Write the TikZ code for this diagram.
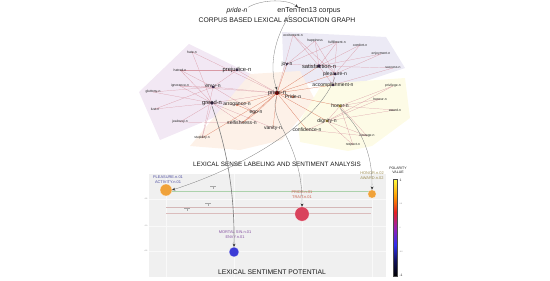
\documentclass[tikz,border=0pt]{standalone}
\usepackage{fontspec}
\setmainfont{Liberation Sans}
\usetikzlibrary{arrows.meta,backgrounds}

\definecolor{hullPurple}{HTML}{F2E8F4}
\definecolor{hullPeach}{HTML}{FDF0E6}
\definecolor{hullLavender}{HTML}{ECEAF5}
\definecolor{hullYellow}{HTML}{FDFBE3}
\definecolor{edgePink}{HTML}{D99AA6}
\definecolor{edgeHot}{HTML}{DB7A5E}
\definecolor{panelGray}{HTML}{F0F0F0}
\definecolor{senseBlue}{HTML}{4F4FA0}
\definecolor{senseRed}{HTML}{CC6450}
\definecolor{senseKhaki}{HTML}{9C8C50}
\definecolor{sensePurple}{HTML}{8450A0}
\definecolor{dotOrange}{HTML}{F0A23A}
\definecolor{dotCrimson}{HTML}{D9435C}
\definecolor{dotBlue}{HTML}{3B3BD6}
\definecolor{dotDark}{HTML}{3A2550}
\definecolor{dotGold}{HTML}{C9B334}
\definecolor{barNavy}{HTML}{10105A}
\definecolor{barBlue}{HTML}{2E2EF0}
\definecolor{barViolet}{HTML}{9A1FB0}
\definecolor{barRed}{HTML}{E62020}
\definecolor{barOrange}{HTML}{FF9A00}
\definecolor{barYellow}{HTML}{FFFF40}

\pgfdeclareverticalshading{polarity}{100bp}{color(0bp)=(black); color(25bp)=(black);
  color(33bp)=(barNavy); color(41bp)=(barBlue); color(50bp)=(barViolet);
  color(58bp)=(barRed); color(66bp)=(barOrange); color(75bp)=(barYellow);
  color(100bp)=(barYellow)}

\begin{document}
\begin{tikzpicture}[
  x=0.5mm, y=-0.5mm,
  every node/.style={text=black!88, inner sep=0.6pt},
  SmallWord/.style={font=\fontsize{4.8}{5.2}\selectfont},
  MidWord/.style={font=\fontsize{7.2}{7.6}\selectfont},
  BigWord/.style={font=\fontsize{8.2}{8.6}\selectfont},
  MyTitle/.style={font=\fontsize{9.6}{11}\selectfont, text=black!90},
  Edge/.style={draw=edgePink, line width=0.3pt},
  HotEdge/.style={draw=edgeHot, line width=0.35pt},
  Flow/.style={draw=black!50, line width=0.45pt,
               -{Stealth[length=4.5pt, width=4pt, color=black!80]}},
  Sense/.style={font=\fontsize{5.6}{6.6}\selectfont, align=center},
  SenseDot/.style={circle, draw=white, line width=0.3pt, inner sep=0pt},
  Tiny/.style={font=\fontsize{2.6}{3}\selectfont, text=black!55},
  ]
\useasboundingbox (0,0) rectangle (550,280);

% titles
\node [font=\fontsize{9.6}{10}\selectfont\itshape] (seed) at (237,11) {pride-n};
\node [font=\fontsize{10.3}{11}\selectfont] (corpus) at (309,11) {enTenTen13 corpus};
\node [MyTitle] (graphTitle) at (277,20.5) {CORPUS BASED LEXICAL ASSOCIATION GRAPH};
\node [MyTitle, font=\fontsize{9}{10}\selectfont] (senseTitle) at (277,164)
      {LEXICAL SENSE LABELING AND SENTIMENT ANALYSIS};
\node [MyTitle] (potentialTitle) at (272,272) {LEXICAL SENTIMENT POTENTIAL};

% left cluster
\node [SmallWord] (hate) at (192,52) {hate-n};
\node [SmallWord] (hatred) at (180,70) {hatred-n};
\node [BigWord] (prejudice) at (237,70) {prejudice-n};
\node [SmallWord] (ignorance) at (180,86) {ignorance-n};
\node [MidWord] (envy) at (213,87) {envy-n};
\node [SmallWord] (gluttony) at (153,92) {gluttony-n};
\node [BigWord] (greed) at (212,103) {greed-n};
\node [SmallWord] (lust) at (155,109) {lust-n};
\node [SmallWord] (jealousy) at (180,122) {jealousy-n};
\node [SmallWord] (stupidity) at (202,138) {stupidity-n};

% centre cluster
\node [MidWord] (arrogance) at (237,105) {arrogance-n};
\node [MidWord] (ego) at (256,113) {ego-n};
\node [MidWord] (selfishness) at (242,123) {selfishness-n};
\node [MidWord] (vanity) at (273,128) {vanity-n};
\node [BigWord] (pride) at (277,93) {pride-n};
\node [MidWord] (prideCap) at (293,97) {Pride-n};
\node [MidWord] (confidence) at (307,130) {confidence-n};

% upper right cluster
\node [SmallWord] (excitement) at (293,35) {excitement-n};
\node [SmallWord] (happiness) at (315,41) {happiness};
\node [SmallWord] (fulfillment) at (337,42) {fulfillment-n};
\node [SmallWord] (comfort) at (360,45) {comfort-n};
\node [SmallWord] (enjoyment) at (381,54) {enjoyment-n};
\node [SmallWord] (success) at (393,68) {success-n};
\node [MidWord] (joy) at (287,64) {joy-n};
\node [BigWord] (satisfaction) at (319,66) {satisfaction-n};
\node [MidWord] (pleasure) at (335,74) {pleasure-n};
\node [MidWord] (accomplishment) at (333,85) {accomplishment-n};

% lower right cluster
\node [SmallWord] (privilege) at (393,86) {privilege-n};
\node [SmallWord] (honour) at (380,99) {honour-n};
\node [SmallWord] (award) at (395,110) {award-n};
\node [MidWord] (honor) at (340,106) {honor-n};
\node [MidWord] (dignity) at (327,121) {dignity-n};
\node [SmallWord] (courage) at (367,136) {courage-n};
\node [SmallWord] (respect) at (353,145) {respect-n};

\begin{scope}[on background layer]
\fill [hullPurple] (189,44) -- (257,77) -- (232,110) -- (160,140) -- (139,92) -- cycle;
\fill [hullLavender] (282,32) -- (386,37) -- (405,68) -- (345,88) -- (284,80) -- cycle;
\fill [hullPeach, opacity=0.9] (250,74) -- (300,71) -- (315,100) -- (282,140) -- (240,150)
      -- (190,146) -- cycle;
\fill [hullYellow, opacity=0.9] (322,84) -- (405,78) -- (410,118) -- (372,146) -- (348,151)
      -- (300,142) -- (298,124) -- cycle;

\foreach \a/\b in {hate/greed, hate/pride, hatred/prejudice, hatred/greed, hatred/envy,
    ignorance/envy, ignorance/greed, ignorance/pride, gluttony/envy, gluttony/greed,
    lust/envy, lust/greed, jealousy/greed, jealousy/selfishness, stupidity/greed,
    stupidity/envy, envy/prejudice, envy/pride, greed/pride, prejudice/pride,
    greed/arrogance, greed/selfishness, greed/vanity, envy/ego,
    excitement/satisfaction, excitement/pleasure, excitement/pride,
    happiness/satisfaction, happiness/pleasure, happiness/joy,
    fulfillment/satisfaction, fulfillment/accomplishment, fulfillment/joy,
    comfort/satisfaction, comfort/pleasure, enjoyment/satisfaction,
    enjoyment/pleasure, success/satisfaction, success/accomplishment,
    joy/satisfaction, accomplishment/satisfaction,
    privilege/honor, privilege/dignity, honour/dignity, honour/honor,
    award/honor, award/dignity, courage/dignity, courage/honor,
    respect/honor, respect/dignity, honor/dignity, confidence/dignity,
    courage/confidence}
  \draw [Edge] (\a.center) -- (\b.center);

\foreach \a/\b in {arrogance/pride, ego/pride, selfishness/pride, vanity/pride,
    confidence/pride, prideCap/pride, stupidity/pride, selfishness/ego,
    arrogance/ego, joy/pride, satisfaction/pride, pleasure/pride,
    accomplishment/pride, honor/pride, dignity/pride}
  \draw [HotEdge] (\a.center) -- (\b.center);

\foreach \n/\c/\r in {pride/red!50!black/2, prideCap/edgeHot/1.4, greed/dotDark/1.8,
    envy/dotDark/1.3, prejudice/dotDark/1.3, arrogance/edgeHot/1.2,
    satisfaction/dotDark/1.8, pleasure/dotDark/1.5, accomplishment/dotDark/1.4,
    joy/dotDark/1.2, honor/dotGold/1.6, dignity/dotGold/1.4}
  \fill [\c] (\n.center) circle (\r);

% lexical sentiment panel
\fill [panelGray] (149,174) rectangle (386,277);
\foreach \y in {199,226,251}
  \draw [white!60!panelGray, line width=0.3pt] (149,\y) -- (386,\y);
\foreach \x in {166,234,302,372}
  \draw [white!60!panelGray, line width=0.3pt] (\x,174) -- (\x,277);
\end{scope}

% sense lines in the panel
\draw [green!30!gray!50, line width=0.4pt] (166,191) -- (371,191);
\draw [red!25!gray!45, line width=0.4pt] (166,207) -- (372,207);
\draw [red!30!gray!40, line width=0.4pt] (166,213) -- (371,213);
\draw [black!35, line width=0.2pt] (210,186) -- (216,186) (213,186) -- (213,189);
\draw [black!35, line width=0.2pt] (205,203) -- (211,203) (208,203) -- (208,205.5);
\draw [black!35, line width=0.2pt] (184,208) -- (190,208) (187,208) -- (187,211);

\node [Tiny, anchor=east] (tickHigh) at (148,199) {0.5};
\node [Tiny, anchor=east] (tickMid) at (148,226) {0.0};
\node [Tiny, anchor=east] (tickLow) at (148,251) {-0.5};

% sense circles
\node [SenseDot, fill=dotOrange, minimum size=6mm] (pleasureDot) at (166,190) {};
\node [SenseDot, fill=dotCrimson, minimum size=7.2mm] (prideDot) at (302,214) {};
\node [SenseDot, fill=dotOrange, minimum size=4.2mm] (honorDot) at (372,194) {};
\node [SenseDot, fill=dotBlue, minimum size=5mm] (sinDot) at (234,252) {};

\node [Sense, text=senseBlue] (pleasureSense) at (168,179.5) {PLEASURE.n.01\\ACTIVITY.n.01};
\node [Sense, text=senseRed] (prideSense) at (302,194.5) {PRIDE.n.01\\TRAIT.n.01};
\node [Sense, text=senseKhaki] (honorSense) at (372,175.5) {HONOR.n.02\\AWARD.n.02};
\node [Sense, text=sensePurple] (sinSense) at (235,234.5) {MORTAL SIN.n.01\\ENVY.n.01};

% polarity colour bar
\node [font=\fontsize{5}{5.6}\selectfont, align=center] (polarity) at (398,170)
      {POLARITY\\VALUE};
\shade [shading=polarity, draw=black!70, line width=0.3pt] (393,179) rectangle (397,276);
\node [font=\fontsize{4.8}{5}\selectfont, anchor=west] (barTop) at (399,180) {1};
\node [Tiny, anchor=west] (barHalf) at (399,204) {0.5};
\node [Tiny, anchor=west] (barZero) at (399,228) {0};
\node [Tiny, anchor=west] (barNeg) at (399,252) {-0.5};
\node [font=\fontsize{4.8}{5}\selectfont, anchor=west] (barLow) at (399,275) {-1};

% flows
\draw [Flow] (seed.north east) .. controls (262,-1) and (288,-1) .. ([xshift=10.5mm]corpus.north west);
\draw [Flow] ([xshift=6.5mm]corpus.south west) .. controls (276,35) and (268,65) .. (pride.north);
\draw [Flow] (pride.south) .. controls (266,120) and (303,140) .. (prideDot.north);
\draw [Flow] (honor.south) .. controls (358,125) and (373,150) .. (honorDot.north);
\draw [Flow, line width=0.9pt, draw=black!50] (greed.south) .. controls (222,135) and (235,180) .. (sinDot.north);
\draw [Flow] (pleasure.south) .. controls (320,120) and (250,165) .. (pleasureDot.east);
\end{tikzpicture}
\end{document}
